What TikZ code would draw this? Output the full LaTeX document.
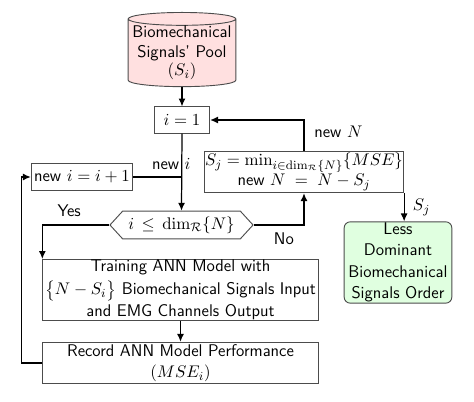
\documentclass[tikz,border=0pt]{standalone}
\usepackage{amsmath,amssymb}
\usepackage{tikz}
\usetikzlibrary{arrows.meta,positioning,shapes.geometric,shapes.symbols}
\tikzset{
  box/.style={draw=black!70,semithick,fill=white,align=center,inner sep=2pt},
  pool/.style={cylinder,shape border rotate=90,aspect=0.13,draw=black!70,semithick,
    fill=red!12,align=center,inner sep=0pt},
  cond/.style={signal,signal to=west and east,signal pointer angle=95,draw=black!70,
    semithick,fill=white,inner sep=1pt},
  outbox/.style={box,rounded corners=4pt,fill=green!12},
  flow/.style={thick,-{Latex[length=1.8mm,width=1.6mm]}},
  link/.style={thick},
  lbl/.style={font=\sffamily\fontsize{11}{14}\selectfont},
}
\begin{document}
\begin{tikzpicture}[x=0.65pt,y=-0.65pt,font=\sffamily\fontsize{11}{14}\selectfont]
  \useasboundingbox (0,0) rectangle (474,402);
  % pool of signals at the top
  \node[pool,minimum width=70pt,minimum height=48pt] (pool) at (182,53)
    {Biomechanical\\[-1pt] Signals' Pool\\[-2pt] $(S_i)$};
  \node[box,minimum width=36pt,minimum height=17pt] (init) at (182,120) {$i=1$};
  \node[box,minimum width=66pt,minimum height=17.5pt,inner sep=1pt] (inc) at (82,177) {new $i=i+1$};
  \node[cond,minimum width=93pt,minimum height=18pt] (test) at (181.5,225)
    {$i\,\le\,\dim_{\mathcal{R}}\{N\}$};
  \node[box,minimum width=125pt,minimum height=27pt,inner sep=0.5pt] (pick) at (304,172)
    {$S_j=\min_{i\in\dim_{\mathcal{R}}\{N\}}\{MSE\}$\\[-1pt] new $N\;=\;N-S_j$};
  \node[box,minimum width=179pt,minimum height=38pt,inner sep=0.5pt] (train) at (180.5,290)
    {Training ANN Model with\\[1pt] $\bigl\{N-S_i\bigr\}$ Biomechanical Signals Input\\ and EMG Channels Output};
  \node[box,minimum width=179pt,minimum height=27pt,inner sep=0.5pt] (rec) at (180.5,363)
    {Record ANN Model Performance\\ $(MSE_i)$};
  \node[outbox,minimum width=70pt,minimum height=51pt,inner sep=0.5pt] (order) at (398,262.5)
    {Less\\ Dominant\\ Biomechanical\\ Signals Order};
  % main line
  \draw[flow] (pool.south) -- (init.north);
  \draw[flow] (init.south) -- (test.north);
  \draw[link] (inc.east) -- (inc.east -| init.south)
    node[lbl,pos=0.78,above=1pt] {new $i$};
  \draw[flow] (test.west) -| (train.north west)
    node[lbl,pos=0.3,above=2pt] {Yes};
  \draw[flow] (train.south) -- (rec.north);
  % loop back to the counter
  \draw[flow] (rec.west) -- ++(-21,0) |- (inc.west);
  % branch when the set is used up
  \draw[flow] (test.east) -| (pick.south)
    node[lbl,pos=0.3,below=1pt] {No};
  \draw[flow] (pick.north) |- (init.east)
    node[lbl,pos=0.3,right=3pt] {new $N$};
  \draw[flow] (pick.south east) -- (pick.south east |- order.north)
    node[lbl,midway,right=2pt] {$S_j$};
\end{tikzpicture}
\end{document}
